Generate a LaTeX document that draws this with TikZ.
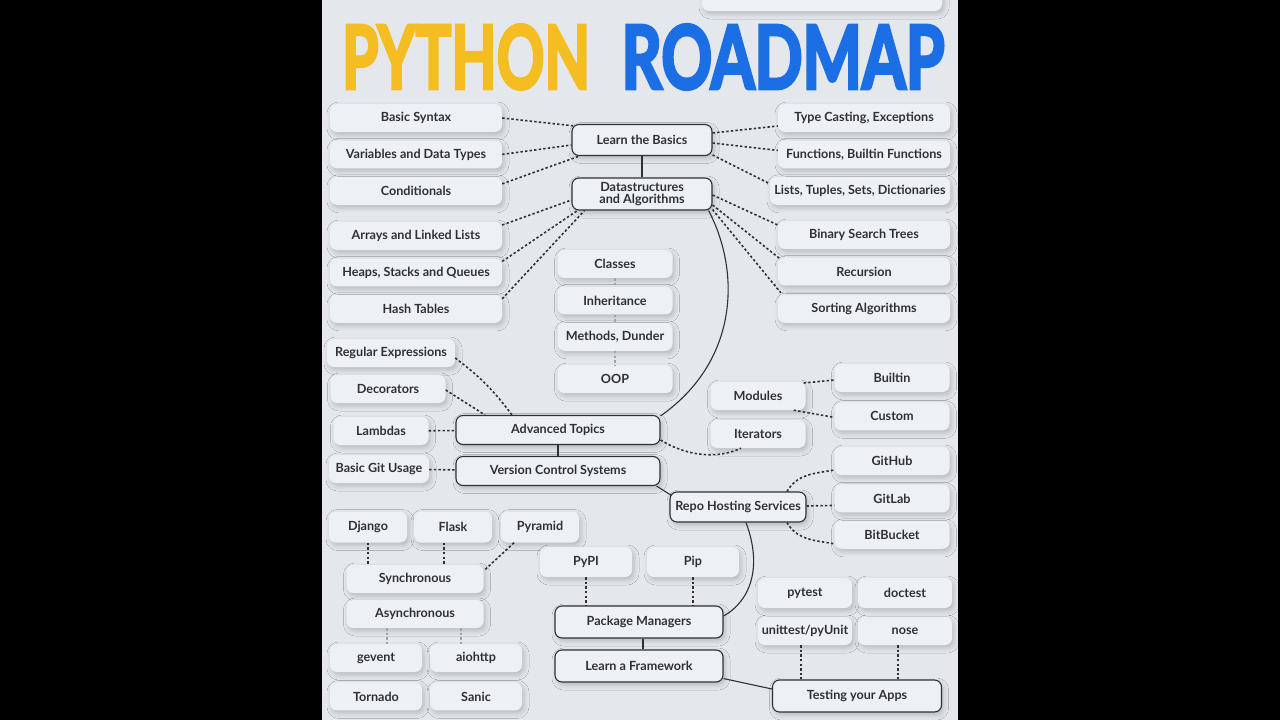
\documentclass[tikz,border=0pt]{standalone}
\usepackage{fontspec}
\setmainfont{Lato}
\newfontfamily\titlefont{Lato}[BoldFeatures={FakeBold=4}]
\usepackage{tikz}
\usetikzlibrary{positioning,shadows.blur}
\definecolor{panel}{HTML}{E4E8ED}
\definecolor{card}{HTML}{EEF1F4}
\definecolor{ink}{HTML}{2E3036}
\definecolor{pyyellow}{HTML}{F4BE22}
\definecolor{pyblue}{HTML}{1B6EE3}

\begin{document}
\begin{tikzpicture}[
    x=1pt, y=1pt,
    node distance=8pt,
    topic/.style={rectangle, rounded corners=7pt, fill=card, text=ink,
        font=\bfseries\fontsize{12.6}{14}\selectfont, minimum width=172pt, minimum height=28pt, inner sep=1pt,
        blur shadow={shadow xshift=2pt, shadow yshift=-3pt, shadow opacity=20, shadow blur radius=5pt}},
    stage/.style={topic, draw=ink, line width=1.1pt, minimum height=31pt},
    dots/.style={draw=ink, line width=1.6pt, dash pattern=on 2.4pt off 2.2pt},
    faint/.style={draw=ink!45, line width=1.2pt, dash pattern=on 2.4pt off 2.2pt},
    link/.style={draw=ink, line width=1.1pt}
]
    \useasboundingbox (0,0) rectangle (1280,-720);
    \fill[black] (0,0) rectangle (1280,-720);
    \fill[panel] (322,0) rectangle (958,-720);
    \path[fill=card, rounded corners=7pt, blur shadow={shadow xshift=2pt, shadow yshift=-3pt, shadow opacity=20, shadow blur radius=5pt}] (702,12) rectangle (942,-11);

    % Title
    \node[text=pyyellow, inner sep=0pt] (py) at (466,-57) {\resizebox{248pt}{64pt}{\titlefont\bfseries PYTHON}};
    \node[text=pyblue, inner sep=0pt] (rm) at (783,-57) {\resizebox{323pt}{64pt}{\titlefont\bfseries ROADMAP}};

    % Basics
    \node[stage, minimum width=140pt] (learn) at (642,-140) {Learn the Basics};
    \node[stage, minimum width=140pt, minimum height=32pt, align=center, font=\bfseries\fontsize{12.6}{12.5}\selectfont] (ds) at (642,-194) {Datastructures\\and Algorithms};
    \node[topic] (basic) at (416,-118) {Basic Syntax};
    \node[topic, below=of basic] (vars) {Variables and Data Types};
    \node[topic, below=of vars] (cond) {Conditionals};
    \node[topic] (arrays) at (416,-236) {Arrays and Linked Lists};
    \node[topic, below=of arrays] (heaps) {Heaps, Stacks and Queues};
    \node[topic, below=of heaps] (hash) {Hash Tables};
    \node[topic] (cast) at (864,-118) {Type Casting, Exceptions};
    \node[topic, below=of cast] (funcs) {Functions, Builtin Functions};
    \node[topic, below=of funcs, minimum width=180pt, xshift=-4pt] (lists) {Lists, Tuples, Sets, Dictionaries};
    \node[topic] (bst) at (864,-235) {Binary Search Trees};
    \node[topic, below=of bst] (recur) {Recursion};
    \node[topic, below=9pt of recur] (sort) {Sorting Algorithms};

    % OOP
    \node[topic, minimum width=115pt] (classes) at (615,-264) {Classes};
    \node[topic, minimum width=115pt, below=of classes] (inherit) {Inheritance};
    \node[topic, minimum width=115pt, below=of inherit] (methods) {Methods, Dunder};
    \node[topic, minimum width=115pt, below=14pt of methods] (oop) {OOP};

    % Advanced
    \node[stage, minimum width=204pt, minimum height=29pt] (adv) at (558,-430) {Advanced Topics};
    \node[stage, minimum width=204pt, minimum height=29pt] (vcs) at (558,-471) {Version Control Systems};
    \node[topic, minimum width=128pt] (regex) at (391,-353) {Regular Expressions};
    \node[topic, minimum width=115pt] (deco) at (388,-389) {Decorators};
    \node[topic, minimum width=95pt] (lambdas) at (381,-431) {Lambdas};
    \node[topic, minimum width=100pt] (git) at (379,-469) {Basic Git Usage};
    \node[topic, minimum width=95pt] (modules) at (758,-396) {Modules};
    \node[topic, minimum width=95pt] (iters) at (758,-434) {Iterators};
    \node[topic, minimum width=115pt] (builtin) at (892,-378) {Builtin};
    \node[topic, minimum width=115pt, below=10pt of builtin] (custom) {Custom};

    % Repos
    \node[stage, minimum width=136pt, minimum height=30pt] (repo) at (738,-507) {Repo Hosting Services};
    \node[topic, minimum width=115pt] (github) at (892,-461) {GitHub};
    \node[topic, minimum width=115pt, below=9pt of github] (gitlab) {GitLab};
    \node[topic, minimum width=115pt, below=8pt of gitlab] (bitbucket) {BitBucket};

    % Frameworks
    \node[topic, minimum width=78pt, minimum height=31pt] (django) at (368,-527) {Django};
    \node[topic, minimum width=78pt, minimum height=31pt] (flask) at (453,-527) {Flask};
    \node[topic, minimum width=78pt, minimum height=31pt] (pyramid) at (540,-527) {Pyramid};
    \node[topic, minimum width=137pt] (sync) at (415,-579) {Synchronous};
    \node[topic, minimum width=137pt] (async) at (415,-614) {Asynchronous};
    \node[topic, minimum width=92pt] (gevent) at (376,-658) {gevent};
    \node[topic, minimum width=92pt] (aiohttp) at (476,-658) {aiohttp};
    \node[topic, minimum width=92pt, below=10pt of gevent] (tornado) {Tornado};
    \node[topic, minimum width=92pt, below=10pt of aiohttp] (sanic) {Sanic};

    % Packages and testing
    \node[topic, minimum width=92pt, minimum height=30pt] (pypi) at (586,-562) {PyPI};
    \node[topic, minimum width=92pt, minimum height=30pt] (pip) at (693,-562) {Pip};
    \node[stage, minimum width=168pt, minimum height=32pt] (pkg) at (639,-622) {Package Managers};
    \node[stage, minimum width=168pt, minimum height=32pt] (fw) at (639,-666) {Learn a Framework};
    \node[topic, minimum width=94pt, minimum height=30pt] (pytest) at (805,-593) {pytest};
    \node[topic, minimum width=94pt, minimum height=30pt] (doctest) at (905,-593) {doctest};
    \node[topic, minimum width=94pt, minimum height=28pt] (unittest) at (805,-631) {unittest/pyUnit};
    \node[topic, minimum width=94pt, minimum height=28pt] (nose) at (905,-631) {nose};
    \node[stage, minimum width=169pt, minimum height=32pt] (testing) at (857,-696) {Testing your Apps};

    % Connectors
    \draw[link] (learn) -- (ds);
    \draw[dots] (basic.east) -- ([xshift=3pt,yshift=-2pt]learn.north west);
    \draw[dots] (vars.east) -- ([yshift=-5pt]learn.west);
    \draw[dots] ([yshift=7pt]cond.east) -- ([xshift=8pt]learn.south west);
    \draw[dots] ([yshift=11pt]arrays.east) -- ([yshift=-6pt]ds.west);
    \draw[dots] ([yshift=11pt]heaps.east) -- ([xshift=6pt]ds.south west);
    \draw[dots] ([yshift=10pt]hash.east) -- ([xshift=13pt]ds.south west);
    \draw[dots] ([yshift=7pt]learn.east) -- ([yshift=-8pt]cast.west);
    \draw[dots] ([yshift=-3pt]learn.east) -- ([yshift=4pt]funcs.west);
    \draw[dots] ([yshift=-15pt]learn.east) -- ([yshift=7pt]lists.west);
    \draw[dots] ([yshift=-1pt]ds.east) -- ([yshift=10pt]bst.west);
    \draw[dots] ([yshift=-11pt]ds.east) -- ([xshift=3pt,yshift=12pt]recur.west);
    \draw[dots] ([yshift=1pt]ds.south east) -- ([xshift=3pt,yshift=16pt]sort.west);

    \draw[faint] (classes) -- (inherit);
    \draw[faint] (inherit) -- (methods);
    \draw[faint] (methods) -- (oop);

    \draw[link] ([xshift=-4pt]ds.south east) .. controls (740,-270) and (740,-360) .. ([yshift=-1pt]adv.north east);
    \draw[link] (adv) -- (vcs);
    \draw[dots] ([yshift=-5pt]regex.east) to[bend left=8] ([xshift=-46pt]adv.north);
    \draw[dots] ([yshift=-1pt]deco.east) -- ([xshift=-73pt]adv.north);
    \draw[dots] (lambdas) -- (adv);
    \draw[dots] (git) -- (vcs);
    \draw[dots] ([yshift=-10pt]adv.east) .. controls (690,-458) and (720,-458) .. ([xshift=-17pt]iters.south);
    \draw[dots] ([xshift=-2pt,yshift=13pt]modules.east) -- ([yshift=-2pt]builtin.west);
    \draw[dots] ([xshift=-12pt]modules.south east) -- ([yshift=-1pt]custom.west);

    \draw[link] ([xshift=-4pt]vcs.south east) -- ([xshift=2pt,yshift=-4pt]repo.north west);
    \draw[dots] ([xshift=49pt]repo.north) to[out=60,in=190] ([yshift=-9pt]github.west);
    \draw[dots] ([yshift=1pt]repo.east) -- ([yshift=-7pt]gitlab.west);
    \draw[dots] ([xshift=49pt]repo.south) to[out=-60,in=170] ([yshift=-9pt]bitbucket.west);
    \draw[link] ([xshift=8pt]repo.south) .. controls (762,-565) and (752,-600) .. ([yshift=6pt]pkg.east);

    \draw[dots] (django.south) -- (django.south |- sync.north);
    \draw[dots] ([xshift=-9pt]flask.south) -- ([xshift=-9pt]flask.south |- sync.north);
    \draw[dots] ([xshift=-26pt]pyramid.south) -- ([yshift=-6pt]sync.north east);
    \draw[faint] ([xshift=-28pt]async.south) -- ([xshift=-28pt]async.south |- gevent.north);
    \draw[faint] ([xshift=46pt]async.south) -- ([xshift=46pt]async.south |- aiohttp.north);

    \draw[dots] (pypi.south) -- (pypi.south |- pkg.north);
    \draw[dots] (pip.south) -- (pip.south |- pkg.north);
    \draw[link] ([xshift=4pt]pkg.south) -- ([xshift=4pt]fw.north);
    \draw[link] ([yshift=4pt]fw.south east) -- ([yshift=7pt]testing.west);
    \draw[dots] ([xshift=-4pt]unittest.south) -- ([xshift=-4pt]unittest.south |- testing.north);
    \draw[dots] ([xshift=-7pt]nose.south) -- ([xshift=-7pt]nose.south |- testing.north);
\end{tikzpicture}
\end{document}
